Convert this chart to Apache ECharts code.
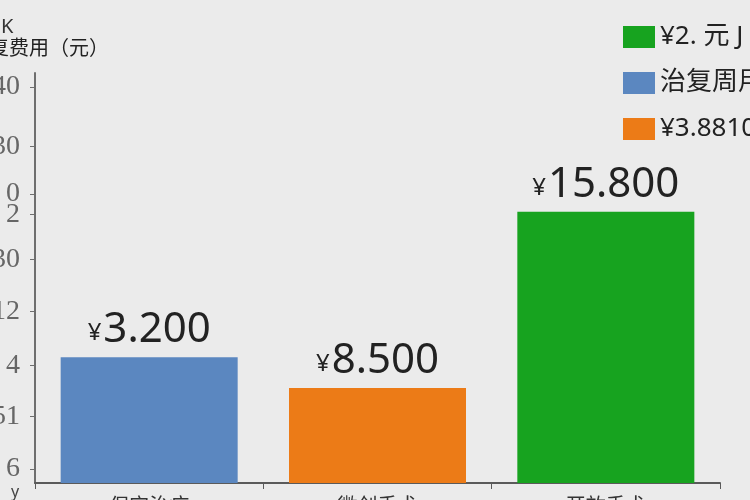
<!DOCTYPE html>
<html>
<head>
<meta charset="utf-8">
<style>html,body{margin:0;padding:0;background:#ebebeb;overflow:hidden}#chart{width:750px;height:500px}</style>
<script src="https://cdn.jsdelivr.net/npm/echarts@6/dist/echarts.min.js"></script>
</head>
<body>
<div id="chart"></div>
<script>
var categories = ['保守治疗', '微创手术', '开放手术'];
// bar heights as read against the axis, the printed labels do not follow them
var barValues = [12.7, 9.6, 27.4];
var barLabels = ['3.200', '8.500', '15.800'];
var seriesNames = ['治复周用', '¥3.8810', '¥2. 元 J'];
var legendOrder = ['¥2. 元 J', '治复周用', '¥3.8810'];
var colors = ['#5b87c0', '#ec7b17', '#17a31f'];
var tickValues = [1.4, 6.7, 11.9, 17.3, 22.6, 27.1, 29.2, 34, 40];
var tickLabels = ['6', '51', '4', '12', '30', '2', '0', '30', '40'];

var chart = echarts.init(document.getElementById('chart'));
var serifFont = '"Liberation Serif"';
var sansFont = '"Noto Sans", "Noto Sans CJK SC"';

chart.setOption({
  backgroundColor: '#ebebeb',
  animation: false,
  title: [
    { text: '修复费用（元）', right: 636, top: 34, textStyle: { fontSize: 20, fontWeight: 'normal', color: '#222', fontFamily: sansFont } },
    { text: 'K', left: -4, top: 12, textStyle: { fontSize: 20, fontWeight: 'normal', color: '#333', fontFamily: sansFont } },
    { text: 'y', left: 6, top: 479, textStyle: { fontSize: 16, fontWeight: 'normal', color: '#444', fontFamily: sansFont } }
  ],
  legend: {
    orient: 'vertical',
    left: 618,
    top: 19,
    icon: 'rect',
    itemWidth: 32,
    itemHeight: 22,
    itemGap: 20,
    data: legendOrder,
    textStyle: { fontSize: 26, color: '#222', fontFamily: sansFont }
  },
  grid: { left: 35, top: 73, width: 685, height: 410, outerBoundsMode: 'none' },
  xAxis: {
    type: 'category',
    data: categories,
    axisLine: { lineStyle: { color: '#5a5a5a', width: 2 } },
    axisTick: { show: true, length: 6, lineStyle: { color: '#5a5a5a' } },
    axisLabel: { margin: 14, fontSize: 20, color: '#333', fontFamily: sansFont }
  },
  yAxis: {
    type: 'value',
    min: 0,
    max: 41.41,
    splitLine: { show: false },
    axisLine: { show: true, lineStyle: { color: '#6e6e6e', width: 2 } },
    axisTick: { show: true, length: 5, customValues: tickValues, lineStyle: { color: '#6e6e6e' } },
    axisLabel: {
      margin: 15,
      fontSize: 28,
      color: '#666',
      fontFamily: serifFont,
      customValues: tickValues,
      formatter: function (v) { return tickLabels[tickValues.indexOf(v)]; }
    }
  },
  series: seriesNames.map(function (name, i) {
    return {
      name: name,
      type: 'bar',
      stack: 'all',
      barWidth: 177,
      itemStyle: { color: colors[i] },
      data: categories.map(function (c, j) { return j === i ? barValues[i] : null; }),
      label: {
        show: true,
        position: 'top',
        distance: 6,
        formatter: function (p) { return p.value == null ? '' : '{y|¥}{n|' + barLabels[i] + '}'; },
        rich: {
          y: { fontSize: 24, color: '#222', fontFamily: sansFont, padding: [6, 2, 0, 0] },
          n: { fontSize: 42, color: '#222', fontFamily: sansFont }
        }
      }
    };
  })
});
</script>
</body>
</html>
